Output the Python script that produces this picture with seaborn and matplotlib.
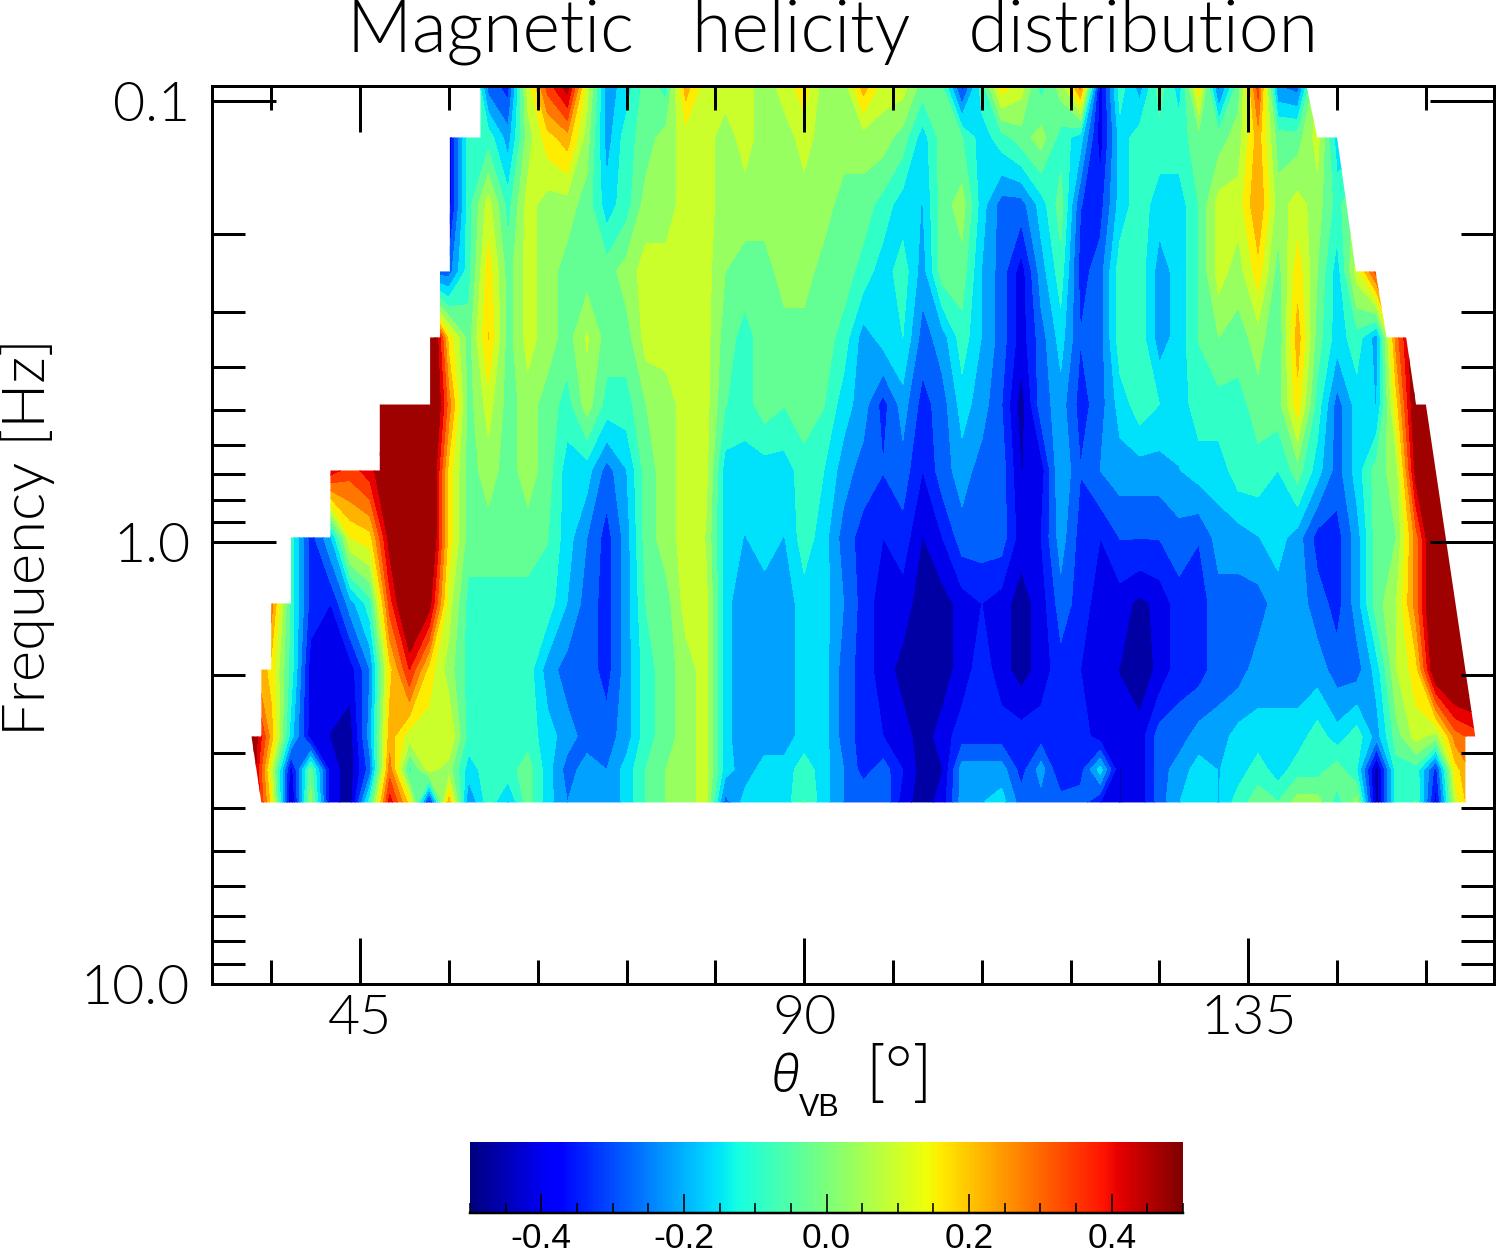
import numpy as np
import matplotlib
matplotlib.use("Agg")
import matplotlib.pyplot as plt
from matplotlib.patches import Polygon
from matplotlib.ticker import NullFormatter, NullLocator
import seaborn as sns

# Bin centres of the field/flow angle, in degrees
theta_vb = [34, 36, 38, 40, 42, 44, 46, 48, 50, 52, 54, 56, 58, 60, 62, 64, 66, 68, 70, 72, 74,
            76, 78, 80, 82, 84, 86, 88, 90, 92, 94, 96, 98, 100, 102, 104, 106, 108, 110, 112,
            114, 116, 118, 120, 122, 124, 126, 128, 130, 132, 134, 136, 138, 140, 142, 144,
            146, 148, 150, 152, 154, 156, 158]

# Spacecraft-frame frequencies of the spectral rows, in Hz
frequency = [0.0925, 0.121, 0.1716, 0.2433, 0.3433, 0.487, 0.687, 0.974, 1.375, 1.94, 2.75, 3.27, 3.88]

# Reduced magnetic helicity per frequency row
sigma_f00 = [.03]*11 + [.09,-.28,-.34,.09,.34,.47,.09,-.22,-.16, -.03,-.09,.22,.09,.09,.09,.03,.09,.16,.03, .03,.22,.09,.09,-.03,-.06,-.34,-.09,.16,.09, -.09,.03,.28,-.41,-.09,-.22,-.03,-.16,.16,-.28, -.03,.34,-.25,-.28,.09] + [.09]*8
sigma_f01 = [-.34]*10 + [-.41,-.09,-.09,-.22,.03,.16,.22,.03,-.22,-.09, -.03,.03,.09,.09,.03,.09,.03,.03,.09,.03, .03,.03,.03,-.03,-.16,-.03,-.06,-.16,-.09,-.03, .03,-.09,-.16,-.41,-.16,-.09,-.09,-.09,-.03,-.03, .03,.22,-.03,-.03,.09,-.16] + [-.16]*7
sigma_f02 = [-.41]*10 + [-.41,-.09,.09,-.09,.09,.03,.03,-.03,-.16,-.09, .03,.03,.09,.09,.03,.03,.03,.03,.03,.03, -.03,-.03,-.09,-.16,-.19,-.03,.03,-.16,-.28,-.28, -.16,-.03,-.31,-.34,-.16,-.09,-.16,-.16,-.06,.09, .09,.25,.03,.09,.03,-.09,.03] + [.03]*6
sigma_f03 = [-.28]*10 + [-.28,-.09,.16,-.03,.09,.03,-.03,-.03,-.03,.03, .09,.09,.09,.09,0,-.03,-.03,.03,.03,-.03, -.03,-.09,-.16,-.09,-.22,-.03,-.03,-.19,-.28,-.41, -.22,-.09,-.34,-.28,-.09,-.09,-.22,-.16,-.06,.09, .03,.16,-.03,.16,0,-.16,.09,.34] + [.34]*5
sigma_f04 = [.53]*9 + [.65,.16,-.03,.19,-.03,.09,.03,-.03,.07,-.03,-.03, .09,.09,.09,.09,-.03,-.09,-.03,-.03,-.03,-.03, -.09,-.22,-.16,-.125,-.28,-.22,-.09,-.19,-.28,-.41, -.28,-.16,-.31,-.28,-.09,-.09,-.22,-.16,-.06,0, -.03,.03,-.06,.22,-.03,-.16,-.09,-.22,.28,.53, .53,.53,.53]
sigma_f05 = [.53]*9 + [.65,.28,-.03,.09,-.03,.03,-.03,-.09,.03,-.09,-.09, 0,.03,.09,.09,-.06,-.09,-.03,-.06,-.03,-.06, -.16,-.22,-.34,-.22,-.34,-.28,-.16,-.22,-.31,-.47, -.28,-.22,-.34,-.28,-.16,-.09,-.125,-.16,-.09,-.09, -.09,-.03,-.03,.16,-.09,-.28,-.16,-.19,.16,.53, .53,.53,.53]
sigma_f06 = [.41]*4 + [.41,.34,.41,.53,.59,.59, .16,-.03,.03,-.03,.03,-.03,-.16,-.16,-.28,-.19, -.03,.03,.09,.09,-.16,-.16,-.16,-.16,-.09,-.125, -.22,-.28,-.31,-.28,-.375,-.28,-.22,-.28,-.28,-.44, -.41,-.19,-.31,-.25,-.22,-.22,-.22,-.19,-.16,-.16, -.09,-.09,-.125,-.03,-.16,-.28,-.16,-.03,.03,.47, .59,.59,.59]
sigma_f07 = [-.09,-.09,-.09,-.34,-.2,.125,.16,.47,.59,.59, .16,-.03,-.03,-.03,-.03,-.06,-.16,-.25,-.34,-.22, -.03,.03,.09,.06,-.16,-.19,-.16,-.19,-.09,-.16, -.28,-.34,-.375,-.34,-.44,-.375,-.28,-.28,-.28,-.41, -.375,-.22,-.34,-.375,-.31,-.31,-.31,-.28,-.31,-.22, -.22,-.19,-.16,-.22,-.34,-.34,-.22,-.03,0,.28, .59,.59,.59]
sigma_f08 = [.28,.28,-.09,-.34,-.375,-.22,-.09,.34,.59,.47, .09,-.09,-.09,-.09,-.09,-.09,-.19,-.28,-.34,-.22, -.06,-.03,.09,.09,-.16,-.25,-.22,-.22,-.16,-.16, -.25,-.34,-.41,-.41,-.47,-.47,-.41,-.375,-.41,-.47, -.41,-.28,-.34,-.41,-.41,-.455,-.42,-.34,-.34,-.28, -.28,-.28,-.22,-.22,-.28,-.34,-.22,-.03,.06,.28, .59,.59,.59]
sigma_f09 = [.28,.16,-.09,-.41,-.41,-.41,-.25,.16,.375,.16, .03,-.09,-.125,-.09,-.09,-.22,-.28,-.28,-.34,-.22, -.09,-.03,.03,.09,-.16,-.25,-.22,-.22,-.16,-.16, -.28,-.34,-.41,-.46,-.47,-.47,-.41,-.34,-.41,-.47, -.41,-.34,-.375,-.41,-.44,-.48,-.42,-.34,-.34,-.28, -.28,-.22,-.22,-.22,-.22,-.28,-.28,-.16,.06,.16, .53,.59,.59]
sigma_f10 = [.53,.22,-.16,-.41,-.44,-.47,-.22,.22,.09,.09, .125,-.09,-.09,-.09,-.09,-.16,-.22,-.28,-.28,-.22, -.09,-.03,.03,.09,-.16,-.25,-.22,-.22,-.16,-.16, -.28,-.34,-.375,-.41,-.47,-.41,-.34,-.34,-.34,-.34, -.34,-.34,-.34,-.41,-.41,-.41,-.28,-.28,-.22,-.22, -.16,-.16,-.16,-.16,-.09,-.16,-.09,-.22,-.03,.09, .03,.28,.34]
sigma_f11 = [.53,.09,-.41,-.03,-.41,-.47,-.28,.28,-.09,.09, .03,-.16,-.09,-.09,-.03,-.16,-.28,-.22,-.25,-.16, -.06,0,.03,.09,-.16,-.22,-.16,-.16,-.09,-.16, -.25,-.34,-.28,-.375,-.47,-.44,-.22,-.22,-.22,-.34, -.22,-.375,-.34,-.16,-.44,-.41,-.28,-.22,-.16,-.19, -.16,-.09,-.16,-.09,-.09,-.03,-.125,-.47,-.09,-.09, -.34,.16,.28]
sigma_f12 = [.53,.16,-.47,.03,-.41,-.47,-.09,.41,.16,-.375, .22,-.25,-.09,-.19,-.03,-.16,-.25,-.22,-.25,-.16, -.06,0,.03,.09,-.28,-.16,-.16,-.16,-.06,-.16, -.25,-.25,-.25,-.41,-.47,-.41,-.22,-.19,-.16,-.28, -.28,-.28,-.28,-.375,-.44,-.41,-.28,-.19,-.125,-.19, -.09,-.03,-.06,.03,.03,-.09,.03,-.47,-.09,-.06, -.41,.09,.28]

# Angular coverage of the data set: limits of sampled theta along frequency
left_limit_theta = [57.2, 57.2, 54.1, 54.1, 53.1, 53.1, 52.1, 52.1, 47, 47, 42, 42, 38, 38, 36, 36, 35, 35, 34, 35]
left_limit_freq = [0.0925, 0.121, 0.121, 0.2433, 0.2433, 0.3433, 0.3433, 0.487, 0.487, 0.687, 0.687, 0.974,
                   0.974, 1.375, 1.375, 1.94, 1.94, 2.75, 2.75, 3.88]
right_limit_theta = [157, 157, 158, 153, 152, 151, 149, 147.9, 145.9, 144, 142, 140.9]
right_limit_freq = [3.88, 2.75, 2.75, 0.487, 0.487, 0.3433, 0.3433, 0.2433, 0.2433, 0.121, 0.121, 0.0925]

W, H = 1496, 1254
sns.set_theme(style="white")
plt.rcParams["font.family"] = ["Lato", "DejaVu Sans"]
plt.rcParams["axes.axisbelow"] = False


def px_rect(x0, y0, x1, y1):
    return [x0 / W, 1 - y1 / H, (x1 - x0) / W, (y1 - y0) / H]


def pt(px):
    return px * 0.72


fig = plt.figure(figsize=(W / 100, H / 100), dpi=100, facecolor="white")
ax = fig.add_axes(px_rect(212, 86, 1494, 984))

jet = matplotlib.colormaps["jet"].copy()
levels = np.linspace(-0.5, 0.5, 17)
jet.set_over(jet(15.5 / 16))
jet.set_under(jet(0.5 / 16))

sigma = np.array([sigma_f00, sigma_f01, sigma_f02, sigma_f03, sigma_f04, sigma_f05, sigma_f06,
                  sigma_f07, sigma_f08, sigma_f09, sigma_f10, sigma_f11, sigma_f12])
filled = ax.contourf(theta_vb, frequency, sigma, levels=levels, cmap=jet, extend="both")

# Keep only the angle/frequency range actually sampled
coverage = np.column_stack([left_limit_theta + right_limit_theta, left_limit_freq + right_limit_freq])
region = Polygon(coverage, closed=True, transform=ax.transData, facecolor="none", edgecolor="none")
ax.add_patch(region)
filled.set_clip_path(region)

ax.set_yscale("log")
ax.set_xlim(30, 159.9)
ax.set_ylim(10, 0.0925)
ax.grid(False)
ax.set_xticks([45, 90, 135], ["45", "90", "135"])
ax.set_xticks([36, 54, 63, 72, 81, 99, 108, 117, 126, 144, 153], minor=True)
ax.set_yticks([0.1, 1, 10], ["0.1", "1.0", "10.0"])
ax.set_yticks([.2, .3, .4, .5, .6, .7, .8, .9, 2, 3, 4, 5, 6, 7, 8, 9], minor=True)
ax.yaxis.set_minor_formatter(NullFormatter())
for spine in ax.spines.values():
    spine.set_linewidth(pt(3))
    spine.set_color("black")
ax.tick_params(axis="x", which="major", direction="in", top=True, bottom=True, length=pt(46), width=pt(3), pad=pt(10), colors="black", labelsize=40)
ax.tick_params(axis="x", which="minor", direction="in", top=True, bottom=True, length=pt(24), width=pt(3), colors="black")
ax.tick_params(axis="y", which="major", direction="in", left=True, right=True, length=pt(64), width=pt(3), pad=pt(22), colors="black", labelsize=40)
ax.tick_params(axis="y", which="minor", direction="in", left=True, right=True, length=pt(33), width=pt(3), colors="black")
for label in ax.get_xticklabels() + ax.get_yticklabels():
    label.set_fontweight(300)

fig.text(833 / W, 1 - 53 / H, "Magnetic   helicity   distribution", ha="center", va="baseline",
         fontsize=51.5, fontweight=300, color="black")
fig.text(28 / W, 1 - 537 / H, "Frequency [Hz]", ha="center", va="center", rotation=90,
         fontsize=43, fontweight=300, color="black")

# Axis label pieces: slanted angle symbol, small subscript, bracketed unit
fig.text(786 / W, 1 - 1091 / H, "θ", ha="center", va="baseline", fontsize=38,
         family=["Roboto", "DejaVu Sans"], style="italic", fontweight=300, color="black")
fig.text(819 / W, 1 - 1116 / H, "VB", ha="center", va="baseline", fontsize=22,
         family="Liberation Sans", color="black")
fig.text(899 / W, 1 - 1094 / H, "[°]", ha="center", va="baseline", fontsize=48,
         fontweight=300, color="black")

# Colour scale drawn as a one-row heatmap of the value ramp
cax = fig.add_axes(px_rect(470, 1142, 1183, 1213))
scale_values = np.linspace(-0.5, 0.5, 256)
sns.heatmap(scale_values[None, :], ax=cax, cmap=jet, vmin=-0.5, vmax=0.5, cbar=False,
            xticklabels=False, yticklabels=False)
cbar_major = [-0.4, -0.2, 0.0, 0.2, 0.4]
cbar_minor = [-0.5, -0.45, -0.35, -0.3, -0.25, -0.15, -0.1, -0.05, 0.05, 0.1, 0.15, 0.25, 0.3, 0.35, 0.45, 0.5]
to_cell = lambda v: (np.asarray(v) + 0.5) * 256
cax.set_xticks(to_cell(cbar_major), [f"{v:.1f}" for v in cbar_major], rotation=0,
               fontfamily="Liberation Sans", fontsize=25.5)
cax.set_xticks(to_cell(cbar_minor), minor=True)
cax.yaxis.set_major_locator(NullLocator())
cax.tick_params(axis="x", which="major", direction="in", bottom=True, length=pt(19), width=pt(1.6), pad=pt(9), colors="black")
cax.tick_params(axis="x", which="minor", direction="in", bottom=True, length=pt(10), width=pt(1.6), colors="black")
for side in ("top", "left", "right"):
    cax.spines[side].set_visible(False)
cax.spines["bottom"].set_visible(True)
cax.spines["bottom"].set_linewidth(pt(2.5))
cax.spines["bottom"].set_color("black")

fig.savefig("out.png", dpi=100)
